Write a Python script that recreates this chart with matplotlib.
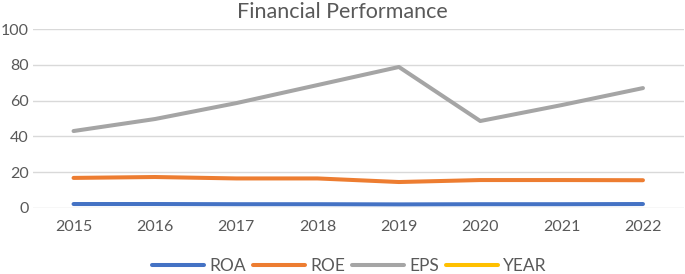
import matplotlib.pyplot as plt

# Data
years = ['2015', '2016', '2017', '2018', '2019', '2020', '2021', '2022']
roa = [2.2, 2.2, 2.1, 2.1, 2.0, 2.1, 2.1, 2.2]
roe = [16.8, 17.3, 16.5, 16.5, 14.5, 15.6, 15.6, 15.5]
eps = [43.0, 49.7, 58.6, 68.7, 78.8, 48.6, 57.5, 67.0]
year_vals = [2015, 2016, 2017, 2018, 2019, 2020, 2021, 2022]

plt.rcParams['font.family'] = ['Lato', 'DejaVu Sans']

fig = plt.figure(figsize=(6.85, 2.74), dpi=100)
ax = fig.add_axes([0.048, 0.241, 0.950, 0.653])

x = range(len(years))
ax.plot(x, roa, color='#4472C4', lw=2.9, label='ROA', solid_capstyle='round')
ax.plot(x, roe, color='#ED7D31', lw=2.9, label='ROE', solid_capstyle='round')
ax.plot(x, eps, color='#A5A5A5', lw=2.9, label='EPS', solid_capstyle='round')
ax.plot(x, year_vals, color='#FFC000', lw=2.9, label='YEAR', solid_capstyle='round')

ax.set_ylim(0, 100)
ax.set_xlim(-0.5, len(years) - 0.5)
ax.set_yticks([0, 20, 40, 60, 80, 100])
ax.set_xticks(list(x))
ax.set_xticklabels(years)
ax.grid(axis='y', color='#D9D9D9', lw=1)
ax.set_axisbelow(True)
for s in ax.spines.values():
    s.set_visible(False)
ax.tick_params(length=0, labelsize=11.5, colors='#595959', pad=9)
ax.tick_params(axis='y', pad=3)

fig.text(0.5, 0.955, 'Financial Performance', ha='center', va='center',
         fontsize=15.5, color='#595959')

fig.legend(loc='center', bbox_to_anchor=(0.51, 0.03), ncol=4, frameon=False,
           fontsize=12.5, labelcolor='#595959', handlelength=3.0,
           columnspacing=0.4, handletextpad=0.3)

fig.savefig('out.png', dpi=100)
